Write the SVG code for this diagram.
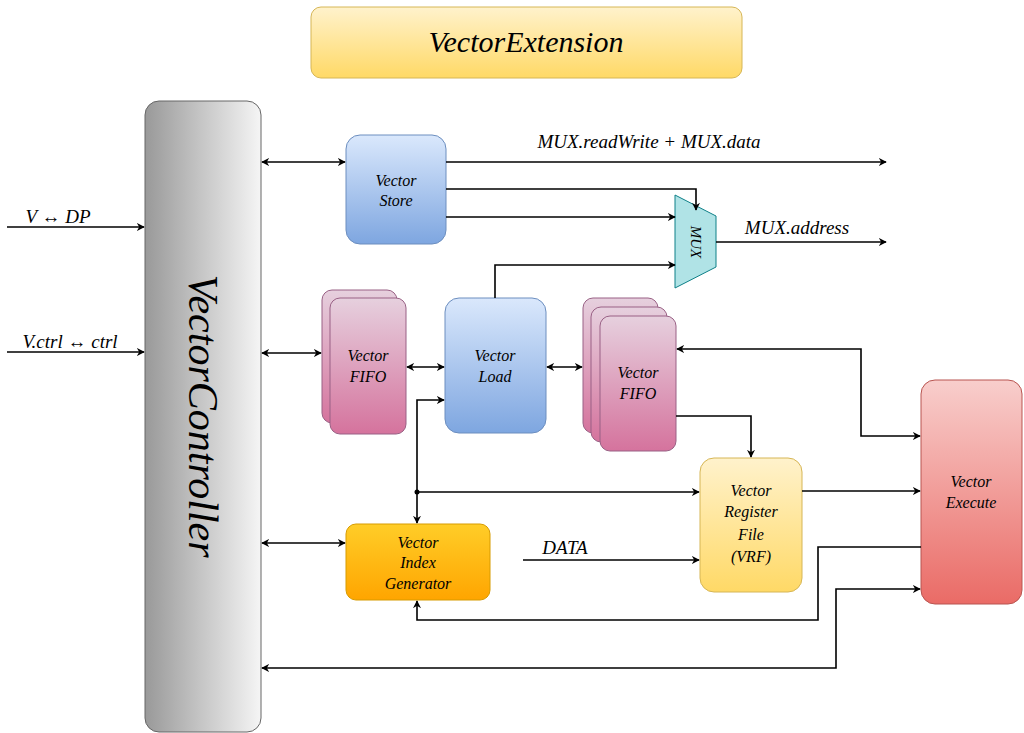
<svg xmlns="http://www.w3.org/2000/svg" width="1024" height="733" viewBox="0 0 1024 733">
<defs>
<linearGradient id="gy" x1="0" y1="0" x2="0" y2="1"><stop offset="0" stop-color="#fff2cc"/><stop offset="1" stop-color="#ffd966"/></linearGradient>
<linearGradient id="gg" x1="0" y1="0" x2="1" y2="0"><stop offset="0" stop-color="#999999"/><stop offset="1" stop-color="#f5f5f5"/></linearGradient>
<linearGradient id="gb" x1="0" y1="0" x2="0" y2="1"><stop offset="0" stop-color="#dae8fc"/><stop offset="1" stop-color="#7ea6e0"/></linearGradient>
<linearGradient id="gp" x1="0" y1="0" x2="0" y2="1"><stop offset="0" stop-color="#e6d0de"/><stop offset="1" stop-color="#d5739d"/></linearGradient>
<linearGradient id="go" x1="0" y1="0" x2="0" y2="1"><stop offset="0" stop-color="#ffcd28"/><stop offset="1" stop-color="#ffa500"/></linearGradient>
<linearGradient id="gr" x1="0" y1="0" x2="0" y2="1"><stop offset="0" stop-color="#f8cecc"/><stop offset="1" stop-color="#ea6b66"/></linearGradient>
<marker id="a" viewBox="0 0 10 10" refX="9" refY="5" markerWidth="8" markerHeight="8" orient="auto-start-reverse" markerUnits="userSpaceOnUse"><path d="M0,0 L10,5 L0,10 L3,5 z" fill="#000"/></marker>
</defs>
<style>
text{font-family:"Liberation Serif",serif;font-style:italic;fill:#000;text-anchor:middle}
.n{font-size:16px}
.l{font-size:19px}
.c path,.c line{fill:none;stroke:#000;stroke-width:1.6}
</style>
<g id="title"><rect x="311" y="7" width="431" height="71" rx="10" fill="url(#gy)" stroke="#d6b656"/><text x="526" y="52" font-size="30">VectorExtension</text></g>
<g id="controller"><rect x="145" y="101" width="116" height="631" rx="14" fill="url(#gg)" stroke="#666"/><text transform="translate(203,416) rotate(90)" y="14" font-size="42">VectorController</text></g>
<g id="store"><rect x="346" y="135" width="100" height="109" rx="14" fill="url(#gb)" stroke="#6c8ebf"/><text class="n" x="396" y="186">Vector</text><text class="n" x="396" y="206">Store</text></g>
<g id="mux"><polygon points="675,195 716,216 716,267 675,288" fill="#b0e3e6" stroke="#0e8088"/><text transform="translate(696,242) rotate(90)" y="5" font-size="15">MUX</text></g>
<g id="fifo1"><rect x="322" y="290" width="75" height="133" rx="10" fill="url(#gp)" stroke="#996185"/><rect x="330" y="298" width="76" height="136" rx="10" fill="url(#gp)" stroke="#996185"/><text class="n" x="368" y="361">Vector</text><text class="n" x="368" y="382">FIFO</text></g>
<g id="load"><rect x="445" y="298" width="101" height="135" rx="14" fill="url(#gb)" stroke="#6c8ebf"/><text class="n" x="495" y="361">Vector</text><text class="n" x="495" y="382">Load</text></g>
<g id="fifo2"><rect x="583" y="298" width="75" height="135" rx="10" fill="url(#gp)" stroke="#996185"/><rect x="591" y="307" width="76" height="135" rx="10" fill="url(#gp)" stroke="#996185"/><rect x="600" y="316" width="76" height="135" rx="10" fill="url(#gp)" stroke="#996185"/><text class="n" x="638" y="378">Vector</text><text class="n" x="638" y="399">FIFO</text></g>
<g id="vrf"><rect x="700" y="458" width="102" height="134" rx="14" fill="url(#gy)" stroke="#d6b656"/><text class="n" x="751" y="496">Vector</text><text class="n" x="751" y="517">Register</text><text class="n" x="751" y="540">File</text><text class="n" x="751" y="562">(VRF)</text></g>
<g id="index"><rect x="346" y="524" width="144" height="76" rx="10" fill="url(#go)" stroke="#d79b00"/><text class="n" x="418" y="548">Vector</text><text class="n" x="418" y="568">Index</text><text class="n" x="418" y="589">Generator</text></g>
<g id="execute"><rect x="921" y="380" width="101" height="224" rx="14" fill="url(#gr)" stroke="#b85450"/><text class="n" x="971" y="487">Vector</text><text class="n" x="971" y="508">Execute</text></g>
<g id="labels">
<text class="l" x="58" y="223">V ↔ DP</text>
<text class="l" x="70" y="348">V.ctrl ↔ ctrl</text>
<text class="l" x="649" y="148">MUX.readWrite + MUX.data</text>
<text class="l" x="797" y="234">MUX.address</text>
<text class="l" x="565" y="554">DATA</text>
</g>
<g class="c" id="connectors">
<path d="M7,227 H144" marker-end="url(#a)"/>
<path d="M7,352 H144" marker-end="url(#a)"/>
<path d="M262,162 H345" marker-start="url(#a)" marker-end="url(#a)"/>
<path d="M262,353 H321" marker-start="url(#a)" marker-end="url(#a)"/>
<path d="M262,543 H345" marker-start="url(#a)" marker-end="url(#a)"/>
<path d="M446,162 H886" marker-end="url(#a)"/>
<path d="M446,189 H696 V210" marker-end="url(#a)"/>
<path d="M446,217 H675" marker-end="url(#a)"/>
<path d="M495,298 V265 H675" marker-end="url(#a)"/>
<path d="M716,242 H886" marker-end="url(#a)"/>
<path d="M407,367 H444" marker-start="url(#a)" marker-end="url(#a)"/>
<path d="M547,367 H582" marker-start="url(#a)" marker-end="url(#a)"/>
<path d="M677,349 H861 V436 H920" marker-start="url(#a)" marker-end="url(#a)"/>
<path d="M676,416 H751 V457" marker-end="url(#a)"/>
<path d="M444,400 H417 V523" marker-start="url(#a)" marker-end="url(#a)"/>
<path d="M417,492 H699" marker-end="url(#a)"/>
<path d="M523,560 H699" marker-end="url(#a)"/>
<path d="M802,491 H920" marker-end="url(#a)"/>
<path d="M921,547 H818 V620 H417 V601" marker-end="url(#a)"/>
<path d="M262,668 H836 V589 H920" marker-start="url(#a)" marker-end="url(#a)"/>
<circle cx="417" cy="492" r="2.5" fill="#000"/>
</g>
</svg>
